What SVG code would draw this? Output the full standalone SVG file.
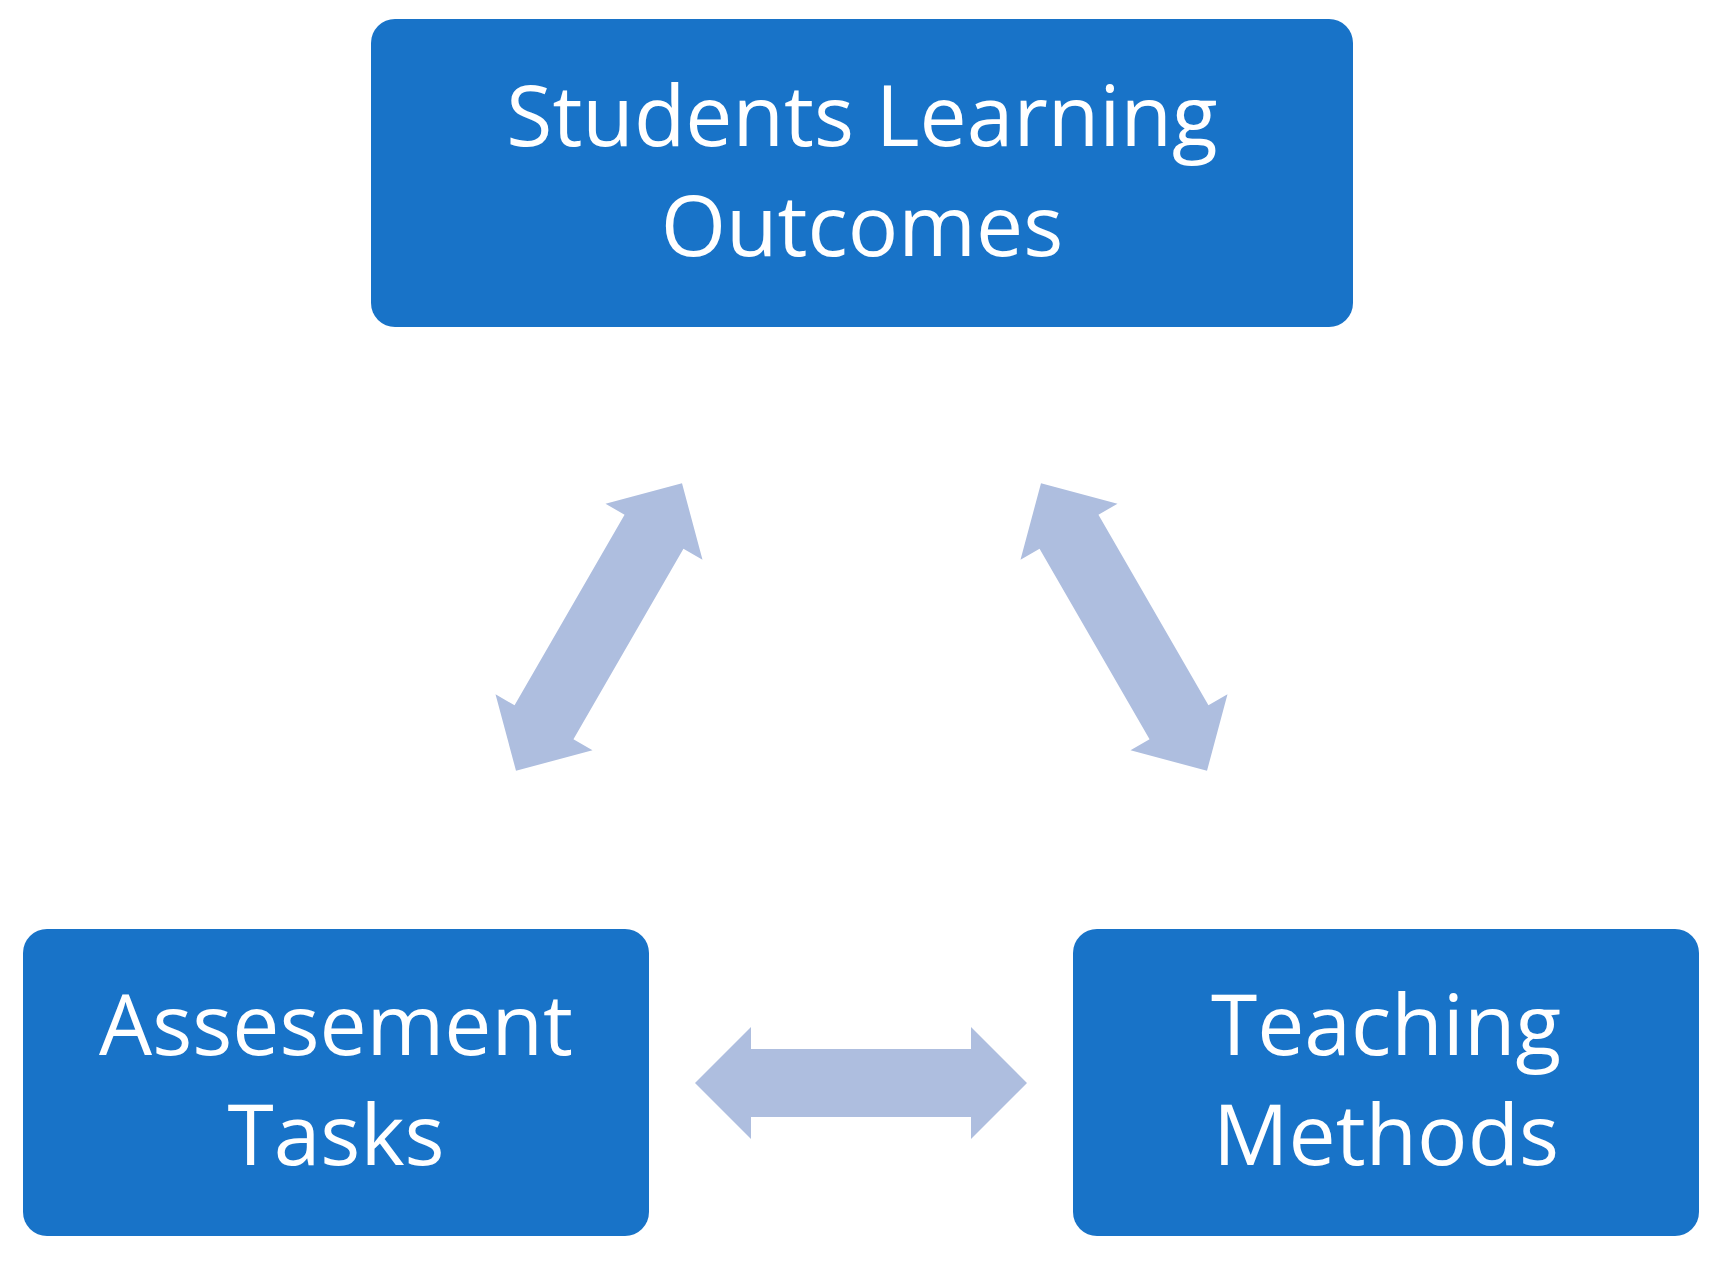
<svg xmlns="http://www.w3.org/2000/svg" width="1720" height="1262" viewBox="0 0 1720 1262">
<style>
.box{fill:#1873C8}
.t{fill:#fff;font-family:"Open Sans","Liberation Sans",sans-serif;font-size:84px;text-anchor:middle}
.arr{fill:#AEBEDF}
</style>
<defs>
<polygon id="dbl" points="-166,0 -110,-56 -110,-34 110,-34 110,-56 166,0 110,56 110,34 -110,34 -110,56"/>
</defs>
<rect width="1720" height="1262" fill="#fff"/>
<g id="connectors" class="arr">
<use href="#dbl" transform="translate(599,627) rotate(-60)"/>
<use href="#dbl" transform="translate(1124,627) rotate(60)"/>
<use href="#dbl" transform="translate(861,1083)"/>
</g>
<g id="outcomes">
<rect class="box" x="371" y="19" width="982" height="308" rx="24"/>
<text class="t" x="862" y="146">Students Learning</text>
<text class="t" x="862" y="256">Outcomes</text>
</g>
<g id="assessment">
<rect class="box" x="23" y="929" width="626" height="307" rx="24"/>
<text class="t" x="336" y="1055">Assesement</text>
<text class="t" x="336" y="1165">Tasks</text>
</g>
<g id="teaching">
<rect class="box" x="1073" y="929" width="626" height="307" rx="24"/>
<text class="t" x="1386" y="1055">Teaching</text>
<text class="t" x="1386" y="1165">Methods</text>
</g>
</svg>
